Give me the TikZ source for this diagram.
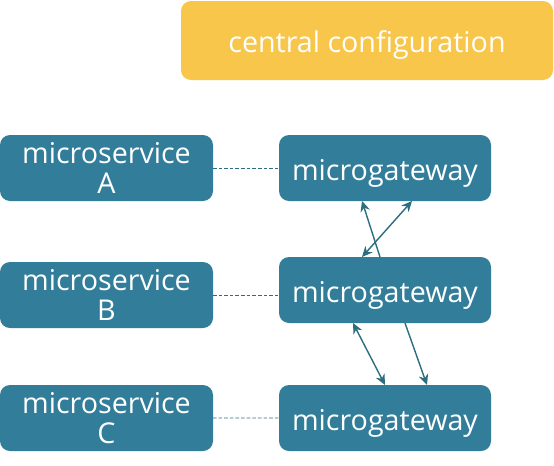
\documentclass[tikz,border=0pt]{standalone}
\usepackage{fontspec}
\setmainfont{Open Sans}
\usepackage{tikz}
\usetikzlibrary{shapes.geometric, arrows, arrows.meta, positioning}
\definecolor{teal1}{HTML}{327E9A}
\definecolor{tealdark}{HTML}{2C6E7F}
\definecolor{yellow1}{HTML}{F7C64A}
\tikzstyle{central} = [rectangle, rounded corners=0.2cm, minimum width=7.44cm, minimum height=1.58cm, inner sep=0pt, outer sep=0pt, text centered, text height=13.8pt, text depth=0pt, fill=yellow1, text=white, font=\fontsize{16.3}{19}\selectfont]
\tikzstyle{service} = [rectangle, rounded corners=0.2cm, minimum width=4.26cm, minimum height=1.32cm, inner sep=0pt, outer sep=0pt, align=center, fill=teal1, text=white, font=\fontsize{16.3}{17.5}\selectfont]
\tikzstyle{gateway} = [rectangle, rounded corners=0.2cm, minimum width=4.24cm, minimum height=1.32cm, inner sep=0pt, outer sep=0pt, text centered, text height=13.8pt, text depth=0pt, fill=teal1, text=white, font=\fontsize{16.3}{19}\selectfont]
\tikzstyle{link} = [draw=tealdark, line width=0.5pt, dash pattern=on 2pt off 1.2pt]
\tikzstyle{arrow} = [draw=tealdark, line width=0.8pt, -{Stealth[length=6pt,width=5.5pt]}]
\tikzstyle{twoway} = [draw=tealdark, line width=0.8pt, {Stealth[length=6pt,width=5.5pt]}-{Stealth[length=6pt,width=5.5pt]}]

\begin{document}
\begin{tikzpicture}
        \useasboundingbox (0,0) rectangle (11.08,-9.32);

        \node (config) [central] at (7.34,-0.81) {central configuration};
        \node (msA) [service] at (2.13,-3.36) {microservice\\A};
        \node (msB) [service, below=1.22cm of msA] {microservice\\B};
        \node (msC) [service, below=1.14cm of msB] {microservice\\C};
        \node (gwA) [gateway, right=1.32cm of msA] {microgateway};
        \node (gwB) [gateway, below=1.12cm of gwA] {microgateway};
        \node (gwC) [gateway, below=1.24cm of gwB] {microgateway};

        \draw [link] (msA) -- (gwA);
        \draw [link] (msB.east) -- (msB.east -| gwB.west);
        \draw [link] (msC) -- (gwC);

        \draw [arrow] ([xshift=-0.1cm]gwB.north) -- ([xshift=-0.46cm]gwA.south);
        \draw [twoway] ([xshift=-0.46cm]gwB.north) -- ([xshift=0.54cm]gwA.south);
        \draw [twoway] ([xshift=-0.64cm]gwB.south) -- (gwC.north);
        \draw [arrow] ([xshift=0.4cm]gwB.south) -- ([xshift=0.84cm]gwC.north);

\end{tikzpicture}
\end{document}
